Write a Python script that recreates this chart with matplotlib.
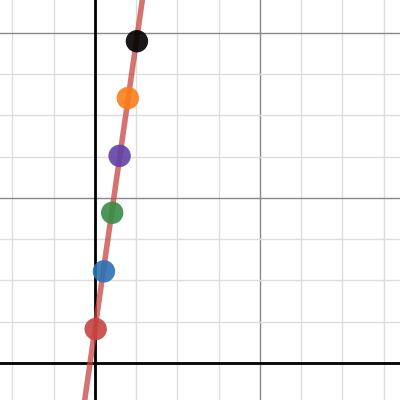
import matplotlib
matplotlib.use("Agg")
import matplotlib.pyplot as plt
import numpy as np

# point values
pt_x = [0.01, 0.11, 0.21, 0.30, 0.40, 0.51]
pt_y = [0.41, 1.11, 1.82, 2.51, 3.21, 3.90]
pt_colors = ['#c74440', '#2d70b3', '#388c46', '#6042a6', '#fa7e19', '#000000']

# fitted line endpoints
line_x = [-0.13, 0.59]
line_y = [-0.50, 4.50]

fig = plt.figure(figsize=(4, 4), dpi=100)
ax = fig.add_axes([0, 0, 1, 1])
xmin, xmax = -1.15, 3.70
ymin, ymax = -0.45, 4.40
ax.set_xlim(xmin, xmax)
ax.set_ylim(ymin, ymax)

for v in np.arange(-1.0, 4.0, 0.5):
    major = abs(v / 2 - round(v / 2)) < 1e-9
    ax.axvline(v, color='#888888' if major else '#dddddd', lw=1.0, zorder=0)
for v in np.arange(-0.5, 4.6, 0.5):
    major = abs(v / 2 - round(v / 2)) < 1e-9
    ax.axhline(v, color='#888888' if major else '#dddddd', lw=1.0, zorder=0)
ax.axvline(0, color='black', lw=2, zorder=1)
ax.axhline(0, color='black', lw=2, zorder=1)

ax.plot(line_x, line_y, color='#c74440', alpha=0.75, lw=4, zorder=2, solid_capstyle='butt')
ax.scatter(pt_x, pt_y, c=pt_colors, s=260, alpha=0.9, zorder=3, edgecolors='none')

ax.set_xticks([])
ax.set_yticks([])
for s in ax.spines.values():
    s.set_visible(False)
fig.savefig('out.png', dpi=100)
